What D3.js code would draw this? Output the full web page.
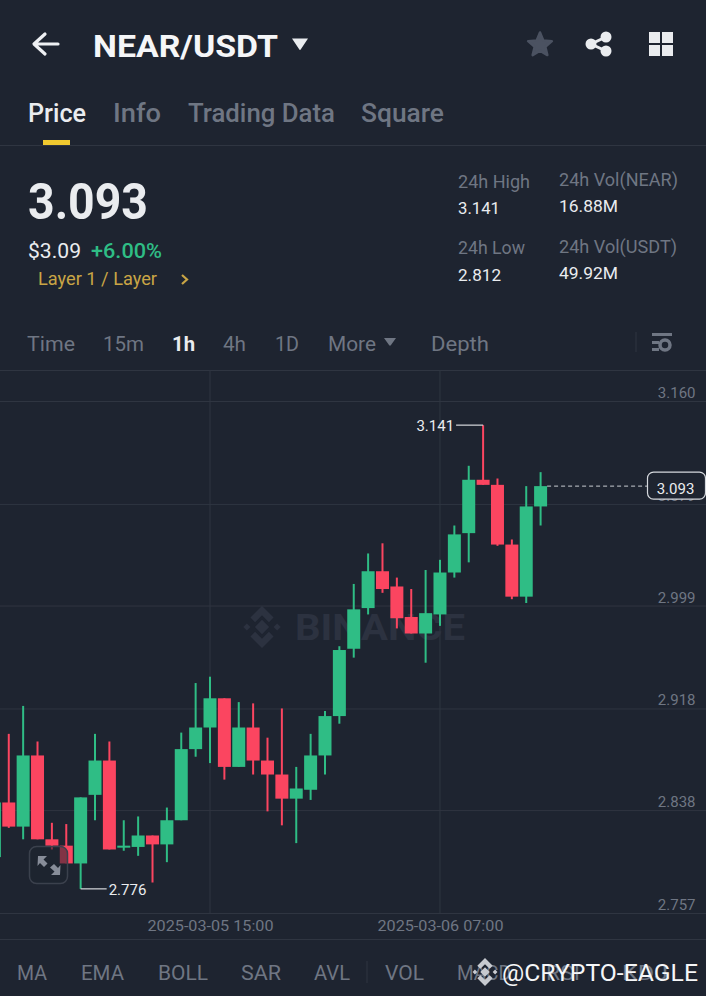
<!DOCTYPE html>
<html><head><meta charset="utf-8">
<script src="https://cdn.jsdelivr.net/npm/d3@7/dist/d3.min.js"></script>
<style>html,body{margin:0;padding:0;background:#1e2430;overflow:hidden}svg{display:block}text{font-family:Roboto,"Noto Sans",sans-serif}</style>
</head><body><svg id="c" width="706" height="996"></svg>
<script>
const opens  = [2.801,2.844,2.825,2.881,2.815,2.810,2.796,2.850,2.877,2.809,2.809,2.818,2.811,2.830,2.886,2.903,2.926,2.872,2.903,2.877,2.866,2.847,2.854,2.881,2.912,2.965,2.997,3.026,3.014,2.990,2.977,2.992,3.025,3.056,3.098,3.094,3.047,3.006,3.077];
const highs  = [2.860,2.898,2.920,2.892,2.828,2.827,2.848,2.898,2.892,2.830,2.833,2.818,2.840,2.899,2.938,2.943,2.926,2.923,2.922,2.895,2.918,2.872,2.898,2.916,2.967,3.016,3.040,3.048,3.021,3.012,3.027,3.035,3.062,3.109,3.141,3.099,3.051,3.093,3.104];
const lows   = [2.798,2.824,2.815,2.815,2.807,2.796,2.776,2.830,2.807,2.806,2.802,2.781,2.797,2.830,2.880,2.875,2.862,2.872,2.866,2.837,2.826,2.812,2.846,2.866,2.906,2.958,2.992,3.009,2.981,2.977,2.954,2.983,3.021,3.033,3.094,3.046,3.004,3.001,3.062];
const closes = [2.844,2.825,2.881,2.815,2.810,2.796,2.848,2.877,2.807,2.810,2.818,2.811,2.830,2.886,2.903,2.926,2.872,2.903,2.877,2.866,2.847,2.855,2.881,2.912,2.964,2.996,3.026,3.012,2.989,2.977,2.993,3.025,3.055,3.098,3.094,3.047,3.006,3.077,3.093];
const priceTicks = [3.160,3.079,2.999,2.918,2.838,2.757];
const timeTicks = [15,31];
const timeLabels = ["2025-03-05 15:00","2025-03-06 07:00"];
const intervals = ["Time","15m","1h","4h","1D","More"];
const indicators = ["MA","EMA","BOLL","SAR","AVL","VOL","MACD","RSI","KDJ"];
const tabs = ["Price","Info","Trading Data","Square"];

const BG="#1e2430",GREEN="#2fbd85",RED="#fb4560",GRID="#2f3541",MUTED="#6f7683",SOFT="#eaecef";
const svg=d3.select("#c");
svg.append("rect").attr("width",706).attr("height",996).attr("fill",BG);

function label(t,x,base,size,color,o={}){
  const e=svg.append("text").attr("x",x).attr("y",base).attr("font-size",size).attr("fill",color)
    .attr("font-weight",o.weight||400).attr("text-anchor",o.anchor||"start").text(t);
  if(o.w) e.attr("textLength",o.w).attr("lengthAdjust","spacingAndGlyphs");
  return e;
}
function hline(y,x0=0,x1=706,c=GRID){svg.append("line").attr("x1",x0).attr("x2",x1).attr("y1",y).attr("y2",y).attr("stroke",c).attr("stroke-width",1);}

// header
svg.append("path").attr("d","M58 44H35M45 34L34 44L45 54").attr("fill","none").attr("stroke","#eef0f3").attr("stroke-width",3.2).attr("stroke-linecap","round").attr("stroke-linejoin","round");
label("NEAR/USDT",93,57,32,"#f5f6f8",{weight:700,w:185});
svg.append("path").attr("d","M292 38.500H308L301 49Q300 51 299 49Z").attr("fill","#eaecef");
svg.append("path").attr("fill","#4b5261").attr("stroke","#4b5261").attr("stroke-width",2.500).attr("stroke-linejoin","round")
  .attr("d",d3.lineRadial().curve(d3.curveLinearClosed)(d3.range(10).map(i=>[i*Math.PI/5,i%2?5.6:12.5])))
  .attr("transform","translate(540,45)");
const sh=svg.append("g").attr("fill","#eaecef");
[[606,37],[591,44],[606,51]].forEach(p=>sh.append("circle").attr("cx",p[0]).attr("cy",p[1]).attr("r",5.5));
svg.append("path").attr("d","M606 37L591 44L606 51").attr("fill","none").attr("stroke","#eaecef").attr("stroke-width",3);
[[649,32],[662,32],[649,45],[662,45]].forEach(p=>svg.append("rect").attr("x",p[0]).attr("y",p[1]).attr("width",11).attr("height",11).attr("fill","#eaecef"));

// tabs
const tabX=[28,113,188,361],tabW=[58,48,147,83];
tabs.forEach((t,i)=>label(t,tabX[i],122,25,i?MUTED:SOFT,{w:tabW[i],weight:500}));
svg.append("rect").attr("x",43).attr("y",140).attr("width",27).attr("height",5).attr("fill","#f0c92f");
hline(145.500);

// summary
label("3.093",28,219,50,SOFT,{weight:700,w:120});
label("$3.09",28,258,20,SOFT,{w:53});
label("+6.00%",91,258,20,GREEN,{w:71,weight:500});
label("Layer 1 / Layer",38,285,18,"#c9a545",{w:119});
svg.append("path").attr("d","M182 275L187 279.500L182 284").attr("fill","none").attr("stroke","#c9a545").attr("stroke-width",2.200);
label("24h High",458,188,18,MUTED,{w:72});
label("3.141",458,214,17,SOFT,{w:42});
label("24h Low",458,254,18,MUTED,{w:67});
label("2.812",458,281,17,SOFT,{w:43});
label("24h Vol(NEAR)",559,186,18,MUTED,{w:119});
label("16.88M",559,212,17,SOFT,{w:59});
label("24h Vol(USDT)",559,253,18,MUTED,{w:118});
label("49.92M",559,279,17,SOFT,{w:59});

// interval bar
const ivX=[27,103,172,223,275,328],ivW=[48,41,23,23,24,48];
intervals.forEach((t,i)=>label(t,ivX[i],351,21,i==2?SOFT:MUTED,{w:ivW[i],weight:i==2?700:400}));
svg.append("path").attr("d","M384 338H396L391 345Q390 346.500 389 345Z").attr("fill",MUTED);
label("Depth",431,351,21,MUTED,{w:58});
svg.append("line").attr("x1",636).attr("x2",636).attr("y1",332).attr("y2",352).attr("stroke",GRID);
const st=svg.append("g").attr("fill",MUTED);
st.append("rect").attr("x",652).attr("y",333).attr("width",20).attr("height",3);
st.append("rect").attr("x",652).attr("y",341).attr("width",7).attr("height",3);
st.append("rect").attr("x",652).attr("y",348).attr("width",7).attr("height",3);
svg.append("circle").attr("cx",665).attr("cy",345).attr("r",5).attr("fill","none").attr("stroke",MUTED).attr("stroke-width",3.500);

// chart scales
const y=d3.scaleLinear().domain([2.757,3.160]).range([913,401]);
const x=d3.scaleLinear().domain([0,38]).range([-5.6,540.6]);
hline(370.500);
hline(939.500);

// grid & axes
const grid=svg.append("g");
grid.selectAll("line").data(timeTicks).join("line").attr("x1",d=>x(d)).attr("x2",d=>x(d)).attr("y1",370).attr("y2",913).attr("stroke",GRID);

// watermark behind candles
const wm=svg.append("g").attr("fill","#2c3240");
const logo=(g,cx,cy,s)=>{
  [[0,0,.34],[-.72,0,.17],[.72,0,.17]].forEach(([dx,dy,r])=>{
    g.append("path").attr("d",`M${cx+dx*s} ${cy+(dy-r)*s}L${cx+(dx+r)*s} ${cy+dy*s}L${cx+dx*s} ${cy+(dy+r)*s}L${cx+(dx-r)*s} ${cy+dy*s}Z`);
  });
  g.append("path").attr("d",`M${cx} ${cy-s}L${cx+.55*s} ${cy-.45*s}L${cx+.33*s} ${cy-.23*s}L${cx} ${cy-.56*s}L${cx-.33*s} ${cy-.23*s}L${cx-.55*s} ${cy-.45*s}Z`);
  g.append("path").attr("d",`M${cx} ${cy+s}L${cx+.55*s} ${cy+.45*s}L${cx+.33*s} ${cy+.23*s}L${cx} ${cy+.56*s}L${cx-.33*s} ${cy+.23*s}L${cx-.55*s} ${cy+.45*s}Z`);
};
logo(wm,262,627,21);
svg.append("text").attr("x",295).attr("y",640).attr("font-size",36).attr("font-weight",700).attr("fill","#2c3240").attr("textLength",170).attr("lengthAdjust","spacingAndGlyphs").text("BINANCE");

const yAxis=svg.append("g").attr("transform","translate(706,0)")
  .call(d3.axisLeft(y).tickValues(priceTicks).tickSize(706).tickFormat(d3.format(".3f")));
yAxis.select(".domain").remove();
yAxis.selectAll("line").attr("stroke",GRID);
yAxis.selectAll("text").attr("font-size",15).attr("fill",MUTED).attr("x",-10.5).attr("dy",-3.5).style("font-family","Roboto");

const xAxis=svg.append("g").attr("transform","translate(0,913)")
  .call(d3.axisBottom(x).tickValues(timeTicks).tickSize(0).tickPadding(7).tickFormat((d,i)=>timeLabels[i]));
xAxis.select(".domain").attr("stroke",GRID);
xAxis.selectAll("text").attr("font-size",15).attr("fill",MUTED).attr("textLength",126).attr("lengthAdjust","spacingAndGlyphs").style("font-family","Roboto");

// candles
const data=opens.map((o,i)=>({i,o,h:highs[i],l:lows[i],c:closes[i]}));
const col=d=>d.c>=d.o?GREEN:RED;
const cg=svg.append("g");
cg.selectAll("line").data(data).join("line")
  .attr("x1",d=>x(d.i)).attr("x2",d=>x(d.i)).attr("y1",d=>y(d.h)).attr("y2",d=>y(d.l))
  .attr("stroke",col).attr("stroke-width",2);
cg.selectAll("rect").data(data).join("rect")
  .attr("x",d=>x(d.i)-6.5).attr("width",13)
  .attr("y",d=>y(Math.max(d.o,d.c))).attr("height",d=>Math.max(2,Math.abs(y(d.o)-y(d.c))))
  .attr("fill",col);

// hi / lo markers
const hiI=d3.greatest(data,d=>d.h), loI=d3.least(data,d=>d.l);
const fmt=d3.format(".3f");
svg.append("line").attr("x1",x(hiI.i)).attr("x2",x(hiI.i)-27).attr("y1",y(hiI.h)).attr("y2",y(hiI.h)).attr("stroke","#d8dade").attr("stroke-width",1.200);
svg.append("text").attr("x",x(hiI.i)-29).attr("y",y(hiI.h)+6).attr("text-anchor","end").attr("font-size",15).attr("fill",SOFT).text(fmt(hiI.h));
svg.append("line").attr("x1",x(loI.i)).attr("x2",x(loI.i)+26).attr("y1",y(loI.l)).attr("y2",y(loI.l)).attr("stroke","#d8dade").attr("stroke-width",1.200);
svg.append("text").attr("x",x(loI.i)+28).attr("y",y(loI.l)+6).attr("font-size",15).attr("fill",SOFT).text(fmt(loI.l));

// last price
const last=closes[closes.length-1];
svg.append("line").attr("x1",x(38)+6.5).attr("x2",647).attr("y1",y(last)).attr("y2",y(last)).attr("stroke","#c9ccd2").attr("stroke-dasharray","4 3");
svg.append("rect").attr("x",647.500).attr("y",y(last)-14).attr("width",58).attr("height",27).attr("rx",6).attr("fill",BG).attr("stroke","#d5d8dd").attr("stroke-width",1.200);
label(fmt(last),675.500,y(last)+8,15,SOFT,{anchor:"middle"});

// expand button
const eb=svg.append("g");
eb.append("rect").attr("x",29.500).attr("y",846.500).attr("width",38).attr("height",37).attr("rx",7).attr("fill","#1e2430").attr("fill-opacity",.55).attr("stroke","#3b414d").attr("stroke-width",1.500);
eb.append("path").attr("d","M38 856H47L43.500 859.500L47.500 863.500L44 867L40 863L37.500 866Z").attr("fill","#878d99");
eb.append("path").attr("d","M60 875H51L54.500 871.500L50 867.500L54 864L58 868L60.500 865Z").attr("fill","#878d99");

// indicator bar
const indX=[17,81,158,241,314,385,457,546,622],indW=[30,43,50,40,36,39,54,34,46];
indicators.forEach((t,i)=>label(t,indX[i],980,21,MUTED,{w:indW[i]}));
svg.append("line").attr("x1",367).attr("x2",367).attr("y1",961).attr("y2",983).attr("stroke",GRID);

// author watermark
const aw=svg.append("g").attr("fill","#c7cad0");
logo(aw,485,972,14);
label("@CRYPTO-EAGLE",502,981,24,"#f5f6f8",{w:196});
</script></body></html>
